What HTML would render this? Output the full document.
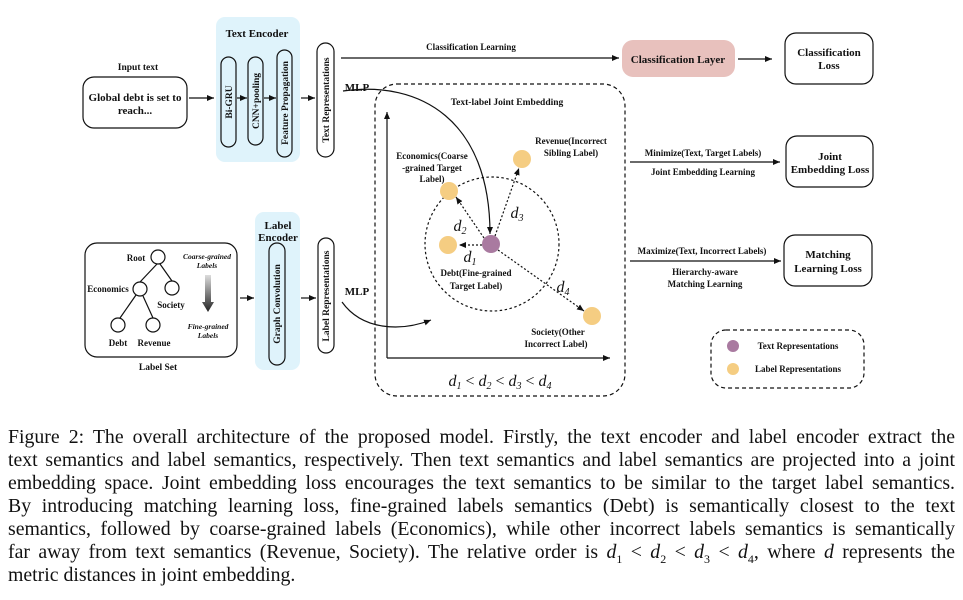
<!DOCTYPE html>
<html><head><meta charset="utf-8"><style>
body{margin:0;width:963px;height:600px;background:#fff;overflow:hidden;position:relative}
svg{position:absolute;left:0;top:0}
.cap{position:absolute;left:8px;width:947px;font-family:"Liberation Serif",serif;font-size:19.8px;color:#111;text-align:justify;text-align-last:justify;white-space:nowrap;line-height:23px}
.cap.last{text-align-last:left}
</style></head><body>
<svg width="963" height="420" viewBox="0 0 963 420">
<defs>
<marker id="a" markerWidth="8" markerHeight="8" refX="7" refY="4" orient="auto" markerUnits="userSpaceOnUse"><path d="M0,1 L7,4 L0,7z" fill="#111"/></marker>
<linearGradient id="g" x1="0" y1="0" x2="0" y2="1"><stop offset="0" stop-color="#ddd"/><stop offset="1" stop-color="#222"/></linearGradient>
</defs>
<g stroke="#111" fill="none" stroke-width="1.2">
<rect x="83" y="77" width="104" height="51" rx="11"/>
<line x1="189" y1="98" x2="214" y2="98" marker-end="url(#a)"/>
<rect x="216" y="17" width="84" height="145" rx="9" fill="#dff3fb" stroke="none"/>
<rect x="221" y="57" width="15" height="90" rx="7.5"/>
<rect x="248" y="57" width="15" height="88" rx="7.5"/>
<rect x="277" y="50" width="15" height="107" rx="7.5"/>
<line x1="237" y1="98" x2="247" y2="98" marker-end="url(#a)"/>
<line x1="264" y1="98" x2="276" y2="98" marker-end="url(#a)"/>
<line x1="301" y1="98" x2="315" y2="98" marker-end="url(#a)"/>
<rect x="317" y="43" width="17" height="114" rx="8.5"/>
<line x1="341" y1="58" x2="619" y2="58" marker-end="url(#a)"/>
<rect x="622" y="40" width="113" height="37" rx="11" fill="#e8c1bd" stroke="none"/>
<line x1="738" y1="59" x2="772" y2="59" marker-end="url(#a)"/>
<rect x="785" y="33" width="88" height="51" rx="11"/>
<path d="M343,91 C 420,80 490,120 490,234" marker-end="url(#a)"/>
<rect x="375" y="84" width="250" height="312" rx="22" stroke-dasharray="4,3"/>
<line x1="387" y1="358" x2="387" y2="112" marker-end="url(#a)"/>
<line x1="387" y1="358" x2="610" y2="358" marker-end="url(#a)"/>
<circle cx="492" cy="244" r="67" stroke-dasharray="2.5,2.5"/>
<g stroke-dasharray="2,2">
<line x1="482" y1="245" x2="459" y2="245" marker-end="url(#a)"/>
<line x1="484" y1="238" x2="456" y2="197" marker-end="url(#a)"/>
<line x1="495" y1="236" x2="519" y2="168" marker-end="url(#a)"/>
<line x1="498" y1="250" x2="584" y2="311" marker-end="url(#a)"/>
</g>
<line x1="630" y1="162" x2="780" y2="162" marker-end="url(#a)"/>
<rect x="786" y="136" width="87" height="51" rx="11"/>
<line x1="630" y1="261" x2="781" y2="261" marker-end="url(#a)"/>
<rect x="784" y="235" width="88" height="51" rx="11"/>
<rect x="711" y="330" width="153" height="58" rx="15" stroke-dasharray="4,3"/>
<rect x="85" y="243" width="152" height="114" rx="12"/>
<path d="M157,264 L140,282 M160,264 L172,281 M136,295 L120,318 M143,296 L153,318"/>
<circle cx="158" cy="257" r="7"/><circle cx="140" cy="289" r="7"/><circle cx="172" cy="288" r="7"/><circle cx="118" cy="325" r="7"/><circle cx="153" cy="325" r="7"/>
<line x1="240" y1="298" x2="254" y2="298" marker-end="url(#a)"/>
<rect x="255" y="212" width="45" height="158" rx="9" fill="#dff3fb" stroke="none"/>
<rect x="269" y="243" width="16" height="122" rx="8"/>
<line x1="301" y1="298" x2="316" y2="298" marker-end="url(#a)"/>
<rect x="318" y="238" width="16" height="115" rx="8"/>
<path d="M342,302 C 362,330 400,332 431,320" marker-end="url(#a)"/>
</g>
<path d="M205,275 L211,275 L211,302 L214,302 L208,312 L202,302 L205,302z" fill="url(#g)"/>
<circle cx="491" cy="244" r="9" fill="#a97aa0"/>
<circle cx="449" cy="191" r="9" fill="#f5cd82"/>
<circle cx="448" cy="245" r="9" fill="#f5cd82"/>
<circle cx="522" cy="159" r="9" fill="#f5cd82"/>
<circle cx="592" cy="316" r="9" fill="#f5cd82"/>
<circle cx="733" cy="346" r="6" fill="#a97aa0"/>
<circle cx="733" cy="369" r="6" fill="#f5cd82"/>
<g font-family="Liberation Serif, serif" font-weight="bold" font-size="9.5" fill="#111" text-anchor="middle">
<text x="138" y="70">Input text</text>
<text x="135" y="101" font-size="11">Global debt is set to</text>
<text x="135" y="114" font-size="11">reach...</text>
<text x="257" y="37" font-size="11">Text Encoder</text>
<text transform="translate(232,102) rotate(-90)">Bi-GRU</text>
<text transform="translate(259,101) rotate(-90)">CNN+pooling</text>
<text transform="translate(288,103) rotate(-90)">Feature Propagation</text>
<text transform="translate(329,100) rotate(-90)">Text Representations</text>
<text x="471" y="50" font-size="9">Classification Learning</text>
<text x="678" y="63" font-size="11">Classification Layer</text>
<text x="829" y="56" font-size="11">Classification</text>
<text x="829" y="69" font-size="11">Loss</text>
<text x="357" y="91" font-size="11">MLP</text>
<text x="507" y="105">Text-label Joint Embedding</text>
<text x="432" y="159" font-size="9">Economics(Coarse</text>
<text x="432" y="171" font-size="9">-grained Target</text>
<text x="432" y="182" font-size="9">Label)</text>
<text x="571" y="144" font-size="9">Revenue(Incorrect</text>
<text x="571" y="156" font-size="9">Sibling Label)</text>
<text x="476" y="276" font-size="9">Debt(Fine-grained</text>
<text x="476" y="289" font-size="9">Target Label)</text>
<text x="558" y="335" font-size="9">Society(Other</text>
<text x="556" y="347" font-size="9">Incorrect Label)</text>
<g font-style="italic" font-weight="normal" font-size="16">
<text x="460" y="231">d<tspan font-size="10" dy="3">2</tspan></text>
<text x="470" y="262">d<tspan font-size="10" dy="3">1</tspan></text>
<text x="517" y="218">d<tspan font-size="10" dy="3">3</tspan></text>
<text x="563" y="292">d<tspan font-size="10" dy="3">4</tspan></text>
<text x="500" y="386">d<tspan font-size="10" dy="3">1</tspan><tspan dy="-3" font-style="normal"> &lt; </tspan>d<tspan font-size="10" dy="3">2</tspan><tspan dy="-3" font-style="normal"> &lt; </tspan>d<tspan font-size="10" dy="3">3</tspan><tspan dy="-3" font-style="normal"> &lt; </tspan>d<tspan font-size="10" dy="3">4</tspan></text>
</g>
<text x="703" y="156" font-size="9">Minimize(Text, Target Labels)</text>
<text x="703" y="175" font-size="9">Joint Embedding Learning</text>
<text x="830" y="160" font-size="11">Joint</text>
<text x="830" y="173" font-size="11">Embedding Loss</text>
<text x="702" y="254" font-size="9">Maximize(Text, Incorrect Labels)</text>
<text x="705" y="275" font-size="9">Hierarchy-aware</text>
<text x="705" y="287" font-size="9">Matching Learning</text>
<text x="828" y="258" font-size="11">Matching</text>
<text x="828" y="272" font-size="11">Learning Loss</text>
<text x="798" y="349" font-size="9">Text Representations</text>
<text x="798" y="372" font-size="9">Label Representations</text>
<text x="136" y="261" font-size="9">Root</text>
<text x="108" y="292" font-size="9">Economics</text>
<text x="171" y="308" font-size="9">Society</text>
<text x="118" y="346" font-size="9">Debt</text>
<text x="154" y="346" font-size="9">Revenue</text>
<g font-style="italic" font-size="7.5"><text x="207" y="259">Coarse-grained</text><text x="207" y="268">Labels</text><text x="208" y="329">Fine-grained</text><text x="208" y="338">Labels</text></g>
<text x="158" y="370">Label Set</text>
<text x="278" y="229" font-size="11">Label</text>
<text x="278" y="241" font-size="11">Encoder</text>
<text transform="translate(280,304) rotate(-90)">Graph Convolution</text>
<text transform="translate(329,296) rotate(-90)">Label Representations</text>
<text x="357" y="295" font-size="11">MLP</text>
</g>
</svg>
<div class="cap" style="top:426px">Figure 2: The overall architecture of the proposed model. Firstly, the text encoder and label encoder extract the</div>
<div class="cap" style="top:449px">text semantics and label semantics, respectively. Then text semantics and label semantics are projected into a joint</div>
<div class="cap" style="top:472px">embedding space. Joint embedding loss encourages the text semantics to be similar to the target label semantics.</div>
<div class="cap" style="top:495px">By introducing matching learning loss, fine-grained labels semantics (Debt) is semantically closest to the text</div>
<div class="cap" style="top:518px">semantics, followed by coarse-grained labels (Economics), while other incorrect labels semantics is semantically</div>
<div class="cap" style="top:541px">far away from text semantics (Revenue, Society). The relative order is <i>d</i><sub style="font-size:12px">1</sub>&nbsp;&lt;&nbsp;<i>d</i><sub style="font-size:12px">2</sub>&nbsp;&lt;&nbsp;<i>d</i><sub style="font-size:12px">3</sub>&nbsp;&lt;&nbsp;<i>d</i><sub style="font-size:12px">4</sub>, where <i>d</i> represents the</div>
<div class="cap last" style="top:564px">metric distances in joint embedding.</div>
</body></html>
